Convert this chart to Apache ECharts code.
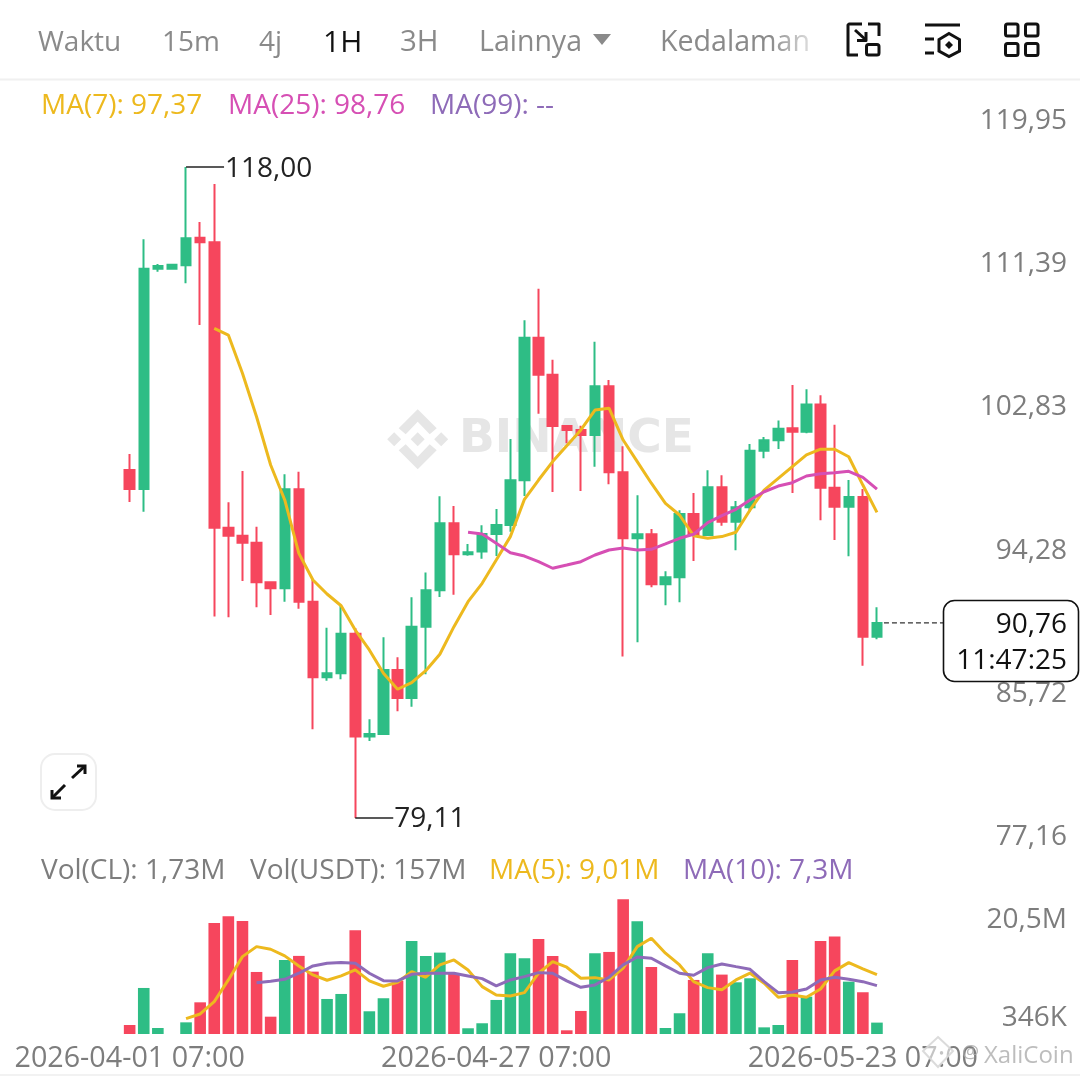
<!DOCTYPE html>
<html><head><meta charset="utf-8">
<style>html,body{margin:0;padding:0;background:#fff}#c{width:1080px;height:1080px}</style>
<script src="https://cdn.jsdelivr.net/npm/echarts@6/dist/echarts.min.js"></script>
</head><body><div id="c"></div>
<script>
const categories = ['2026-04-01 07:00','2026-04-02 07:00','2026-04-03 07:00','2026-04-04 07:00','2026-04-05 07:00','2026-04-06 07:00','2026-04-07 07:00','2026-04-08 07:00','2026-04-09 07:00','2026-04-10 07:00','2026-04-11 07:00','2026-04-12 07:00','2026-04-13 07:00','2026-04-14 07:00','2026-04-15 07:00','2026-04-16 07:00','2026-04-17 07:00','2026-04-18 07:00','2026-04-19 07:00','2026-04-20 07:00','2026-04-21 07:00','2026-04-22 07:00','2026-04-23 07:00','2026-04-24 07:00','2026-04-25 07:00','2026-04-26 07:00','2026-04-27 07:00','2026-04-28 07:00','2026-04-29 07:00','2026-04-30 07:00','2026-05-01 07:00','2026-05-02 07:00','2026-05-03 07:00','2026-05-04 07:00','2026-05-05 07:00','2026-05-06 07:00','2026-05-07 07:00','2026-05-08 07:00','2026-05-09 07:00','2026-05-10 07:00','2026-05-11 07:00','2026-05-12 07:00','2026-05-13 07:00','2026-05-14 07:00','2026-05-15 07:00','2026-05-16 07:00','2026-05-17 07:00','2026-05-18 07:00','2026-05-19 07:00','2026-05-20 07:00','2026-05-21 07:00','2026-05-22 07:00','2026-05-23 07:00','2026-05-24 07:00'];
const opens = [99.90,98.76,111.92,111.92,112.13,113.78,113.50,96.45,95.97,95.56,93.19,92.83,98.75,92.03,87.52,87.75,90.12,83.97,84.13,87.95,86.28,90.54,92.71,96.72,94.86,95.03,96.08,96.61,99.28,107.80,105.59,102.53,102.29,101.99,104.90,99.76,95.82,96.06,93.07,93.49,97.27,96.02,98.87,96.81,97.67,101.05,101.67,102.39,102.19,103.82,98.84,97.71,98.29,89.94];
const closes = [98.76,111.92,112.09,112.16,113.74,113.50,96.45,95.97,95.56,93.19,92.83,98.75,92.03,87.52,87.75,90.12,83.97,84.13,87.95,86.28,90.54,92.71,96.72,94.86,94.98,96.08,96.61,99.28,107.80,105.59,102.53,102.29,101.99,104.90,99.76,95.82,96.06,93.07,93.49,97.27,96.02,98.87,96.81,97.67,101.05,101.67,102.37,102.19,103.82,98.84,97.71,98.29,89.94,90.76];
const lows = [97.99,97.41,111.75,111.89,111.05,108.56,91.14,91.10,93.27,91.70,91.24,92.03,91.61,84.41,87.31,87.40,79.11,83.71,84.13,85.48,85.76,87.70,92.31,92.45,94.78,94.60,94.76,96.21,98.35,103.26,98.59,101.50,98.65,100.10,99.05,88.75,89.61,92.89,91.82,92.00,94.46,96.02,96.57,95.10,97.41,100.60,101.15,98.53,102.09,96.90,95.72,94.74,88.21,89.79];
const highs = [100.86,113.68,112.21,112.22,118.00,114.71,116.98,97.97,99.84,96.51,93.21,99.64,99.80,93.37,90.48,91.84,90.44,85.01,89.91,88.71,92.30,93.77,98.33,97.75,95.48,96.60,97.57,101.75,108.84,110.73,106.49,102.57,102.55,107.56,105.28,101.32,98.39,96.38,93.85,97.49,98.53,99.88,99.58,98.05,101.45,101.87,102.85,104.98,104.72,104.36,102.61,99.30,98.76,91.70];
const ma7 = [null,null,null,null,null,null,108.36,107.96,105.68,103.08,100.20,98.11,94.92,93.33,92.49,91.79,90.34,89.15,87.75,86.80,87.19,87.91,88.89,90.54,92.03,93.13,94.52,95.92,98.15,99.30,100.40,101.35,102.29,103.48,103.59,101.69,100.40,99.11,97.91,97.21,95.97,95.82,95.92,96.18,97.51,98.70,99.40,100.10,100.80,101.14,101.14,100.69,99.00,97.37];
const ma25 = [null,null,null,null,null,null,null,null,null,null,null,null,null,null,null,null,null,null,null,null,null,null,null,null,96.18,96.08,95.52,94.96,94.76,94.42,94.03,94.22,94.42,94.82,95.12,95.24,95.12,95.16,95.48,95.82,96.06,96.75,97.17,97.55,98.11,98.60,98.94,99.14,99.54,99.68,99.74,99.82,99.46,98.76];
const volumes = [1.37,6.99,0.91,0,1.77,4.81,16.87,17.88,17.17,9.42,2.63,11.25,11.86,9.47,5.32,6.08,15.76,3.45,5.43,8.11,14.14,11.86,12.36,9.23,0.87,1.63,5.17,12.26,11.50,14.44,11.86,0.56,3.50,12.26,12.46,20.47,17.13,10.18,0.91,3.15,8.21,12.26,9.02,7.85,8.46,1.01,1.37,11.25,5.67,14.14,14.79,7.95,6.34,1.73];
const volMa5 = [null,null,null,null,2.33,3.04,4.91,8.21,11.75,13.27,12.87,11.86,10.34,8.97,8.16,8.82,9.73,8.06,7.25,7.86,9.47,8.62,10.49,11.25,9.73,7.19,5.93,5.78,6.28,9.23,10.99,10.14,8.47,8.56,8.21,9.99,13.27,14.55,12.27,10.49,7.95,7.04,6.73,8.21,9.23,7.71,5.58,5.93,5.58,6.84,9.58,10.84,9.88,9.01];
const volMa10 = [null,null,null,null,null,null,null,null,null,7.80,8.01,8.31,9.23,10.34,10.75,10.84,10.75,9.23,8.10,8.06,9.07,9.23,9.23,9.23,8.82,8.41,7.30,8.21,8.71,9.32,9.23,8.06,7.09,7.45,8.62,10.49,11.70,11.50,10.34,9.23,8.92,10.08,10.64,10.23,9.83,7.95,6.28,6.38,6.84,8.21,8.62,8.31,7.95,7.34];
const priceTicks = [77.16,85.72,94.28,102.83,111.39,119.95];
const volTicks = [0.346,20.5];
const dateLabels = [0,26,52];
const lastPrice = 90.76;
const tabs = [['Waktu',38,0,28],['15m',162,0,28],['4j',259,0,28],['1H',323,1,30],['3H',400,0,29.5],['Lainnya',479,0,28.5]];

const FONT = '"Open Sans", sans-serif';
const GREEN='#2EBD85', RED='#F6465D', YEL='#EDB91E', PINK='#D64FB4', PUR='#8E6BB8', GRAY='#7d7d7d';
const GL=122.6, GW=761.4;

const chart = echarts.init(document.getElementById('c'),null,{renderer:'canvas'});

const hiIdx = highs.indexOf(Math.max(...highs)), loIdx = lows.indexOf(Math.min(...lows));
const ext = (v,i)=>({coord:[i,v],value:v,symbol:'circle',symbolSize:0,
  label:{show:true,position:'right',distance:0,formatter:'{l|}{t|'+v.toFixed(2).replace('.',',')+'}',
    rich:{l:{width:38,height:1.4,backgroundColor:'#222'},t:{fontFamily:FONT,fontSize:28,color:'#222',padding:[3,0,0,1]}}}});

chart.setOption({
  animation:false,
  backgroundColor:'#fff',
  grid:[{left:GL,width:GW,top:134.4,height:716.2},{left:GL,width:GW,top:899,height:135}],
  xAxis:[
    {type:'category',gridIndex:0,data:categories,axisLine:{show:false},axisTick:{show:false},axisLabel:{show:false},splitLine:{show:false}},
    {type:'category',gridIndex:1,data:categories,axisLine:{show:false},axisTick:{show:false},splitLine:{show:false},
     axisLabel:{interval:(i)=>dateLabels.includes(i),hideOverlap:false,margin:10,fontFamily:FONT,fontSize:28.7,color:GRAY}}
  ],
  yAxis:[
    {type:'value',gridIndex:0,position:'right',min:77.16,max:119.95,splitLine:{show:false},axisLine:{show:false},axisTick:{show:false},
     axisLabel:{customValues:priceTicks,align:'right',verticalAlign:'bottom',lineHeight:27,margin:183,fontFamily:FONT,fontSize:28,color:GRAY,
       showMinLabel:true,showMaxLabel:true,hideOverlap:false,formatter:v=>v.toFixed(2).replace('.',',')}},
    {type:'value',gridIndex:1,position:'right',min:0,max:20.5,splitLine:{show:false},axisLine:{show:false},axisTick:{show:false},
     axisLabel:{customValues:volTicks,align:'right',margin:183,hideOverlap:false,
       formatter:v=> v>1 ? '{a|'+String(v).replace('.',',')+'M}' : '{b|'+Math.round(v*1000)+'K}',
       rich:{a:{fontFamily:FONT,fontSize:28,color:GRAY,padding:[42,0,0,0]},b:{fontFamily:FONT,fontSize:28,color:GRAY,padding:[0,0,28,0]}}}}
  ],
  series:[
    {name:'Candles',type:'candlestick',xAxisIndex:0,yAxisIndex:0,barWidth:10,z:3,
     data:opens.map((o,i)=>[o,closes[i],lows[i],highs[i]]),
     itemStyle:{color:GREEN,color0:RED,borderColor:GREEN,borderColor0:RED,borderWidth:2},
     markPoint:{silent:true,data:[ext(highs[hiIdx],hiIdx),ext(lows[loIdx],loIdx)]}},
    {name:'MA7',type:'line',xAxisIndex:0,yAxisIndex:0,data:ma7,showSymbol:false,z:4,lineStyle:{color:YEL,width:3}},
    {name:'MA25',type:'line',xAxisIndex:0,yAxisIndex:0,data:ma25,showSymbol:false,z:5,lineStyle:{color:PINK,width:3}},
    {name:'Volume',type:'bar',xAxisIndex:1,yAxisIndex:1,barWidth:11.6,z:3,
     data:volumes.map((v,i)=>({value:v,itemStyle:{color:closes[i]>=opens[i]?GREEN:RED}}))},
    {name:'VolMA5',type:'line',xAxisIndex:1,yAxisIndex:1,data:volMa5,showSymbol:false,z:4,lineStyle:{color:YEL,width:3}},
    {name:'VolMA10',type:'line',xAxisIndex:1,yAxisIndex:1,data:volMa10,showSymbol:false,z:5,lineStyle:{color:PUR,width:3}}
  ]
});

// --- overlay chrome ---
const T=(text,x,y,color,size,extra)=>({type:'text',z:20,style:Object.assign({text,x,y,fill:color,font:(size||28)+'px '+FONT,verticalAlign:'middle'},extra||{})});
const S={stroke:'#111',lineWidth:3,fill:'none'};
const poly=(pts,st)=>({type:'polyline',z:20,shape:{points:pts},style:Object.assign({},S,{lineJoin:'round'},st||{})});
const rr=(x,y,w,h,r,st)=>({type:'rect',z:20,shape:{x,y,width:w,height:h,r},style:Object.assign({},S,st||{})});

const g=[];
tabs.forEach(t=>g.push(T(t[0],t[1],43,t[2]?'#111':'#8a8a8a',t[3])));
g.push({type:'polygon',z:20,shape:{points:[[593,34],[611,34],[602,45]]},style:{fill:'#8a8a8a'}});
g.push(T('Kedalaman',660,43,'#8a8a8a',28.6));
g.push({type:'rect',z:21,shape:{x:770,y:20,width:42,height:46},style:{fill:{type:'linear',x:0,y:0,x2:1,y2:0,colorStops:[{offset:0,color:'rgba(255,255,255,0)'},{offset:1,color:'rgba(255,255,255,.75)'}]}}});
g.push({type:'line',z:20,shape:{x1:0,y1:79.5,x2:1080,y2:79.5},style:{stroke:'#f0f0f0',lineWidth:2}});
g.push({type:'line',z:20,shape:{x1:0,y1:1075,x2:1080,y2:1075},style:{stroke:'#eeeeee',lineWidth:1.5}});
// icon 1
g.push(poly([[862,24],[849,24],[848,25],[848,55],[858,55]]));
g.push(poly([[868,24],[879,24],[879,36]]));
g.push(rr(866.5,44.5,12.5,10.5,2));
g.push(poly([[855,30],[866,40]]));
g.push(poly([[866,32],[866,40.5],[857,40.5]]));
// icon 2
g.push({type:'line',z:20,shape:{x1:925,y1:25,x2:960,y2:25},style:S});
g.push({type:'line',z:20,shape:{x1:925,y1:39,x2:934,y2:39},style:S});
g.push({type:'line',z:20,shape:{x1:925,y1:53,x2:934,y2:53},style:S});
g.push({type:'polygon',z:20,shape:{points:[[949,33.5],[959.5,39.5],[959.5,51],[949,56.5],[939,51],[939,39.5]]},style:S});
g.push({type:'polygon',z:20,shape:{points:[[949,41],[953,45],[949,49],[945,45]]},style:{fill:'#111'}});
// icon 3
[[1005.5,24],[1025.5,24],[1005.5,43.5],[1025.5,43.5]].forEach(p=>g.push(rr(p[0],p[1],12.5,12,2)));
// MA legends
g.push(T('MA(7): 97,37',41,106,YEL));
g.push(T('MA(25): 98,76',228,106,PINK));
g.push(T('MA(99): --',430,106,PUR));
g.push(T('Vol(CL): 1,73M',41,871,GRAY));
g.push(T('Vol(USDT): 157M',250,871,GRAY));
g.push(T('MA(5): 9,01M',489,871,YEL));
g.push(T('MA(10): 7,3M',683,871,PUR));
// expand button
g.push(rr(41,754,55,56,14,{stroke:'#eeeeee',lineWidth:2,fill:'#fff'}));
g.push(poly([[72,778],[85,766]],{lineWidth:3}));
g.push(poly([[77,766],[85,766],[85,774]],{lineWidth:3,lineJoin:'miter'}));
g.push(poly([[65,785],[52,798]],{lineWidth:3}));
g.push(poly([[52,790],[52,798],[61,798]],{lineWidth:3,lineJoin:'miter'}));
// Binance watermark (behind the marks)
const WM='#e6e6e6', cx=417.7, cy=439.3;
const dia=(x,y,r)=>({type:'polygon',z:-1,shape:{points:[[x,y-r],[x+r,y],[x,y+r],[x-r,y]]},style:{fill:WM}});
g.push(dia(cx,cy,7),dia(cx-23.5,cy,7),dia(cx+23.5,cy,7));
g.push({type:'polygon',z:-1,shape:{points:[[cx,cy-30],[cx+19,cy-11],[cx+12,cy-5],[cx,cy-17.5],[cx-12,cy-5],[cx-19,cy-11]]},style:{fill:WM}});
g.push({type:'polygon',z:-1,shape:{points:[[cx,cy+30],[cx+19,cy+11],[cx+12,cy+5],[cx,cy+17.5],[cx-12,cy+5],[cx-19,cy+11]]},style:{fill:WM}});
g.push({type:'text',z:-1,style:{text:'BINANCE',x:459,y:440,fill:WM,font:'bold 47px "DejaVu Sans", sans-serif',verticalAlign:'middle'}});
// XaliCoin watermark
g.push({type:'polygon',z:21,shape:{points:[[938,1037],[953,1051],[938,1067],[923,1051]]},style:{fill:'rgba(255,255,255,.55)',stroke:'rgba(215,215,215,.9)',lineWidth:2}});
g.push(T('@',962,1053,'rgba(170,170,170,.85)',19));
g.push(T('XaliCoin',984,1056,'rgba(185,185,185,.95)',24));

chart.setOption({graphic:{elements:g}});

// last-price tag placed through the axes
const yLast = chart.convertToPixel({yAxisIndex:0},lastPrice);
const xLast = chart.convertToPixel({xAxisIndex:0},categories.length-1);
const g2=[
 {type:'line',z:20,shape:{x1:xLast+7,y1:yLast,x2:943,y2:yLast},style:{stroke:'#333',lineWidth:1.2,lineDash:[5,3]}},
 {type:'rect',z:20,shape:{x:943.5,y:600.5,width:135,height:81,r:11},style:{fill:'#fff',stroke:'#111',lineWidth:1.6}},
 T('90,76',1067,625,'#111',28,{align:'right'}),
 T('11:47:25',1067,661,'#111',28,{align:'right'})
];
chart.setOption({graphic:{elements:g.concat(g2)}});
</script></body></html>
